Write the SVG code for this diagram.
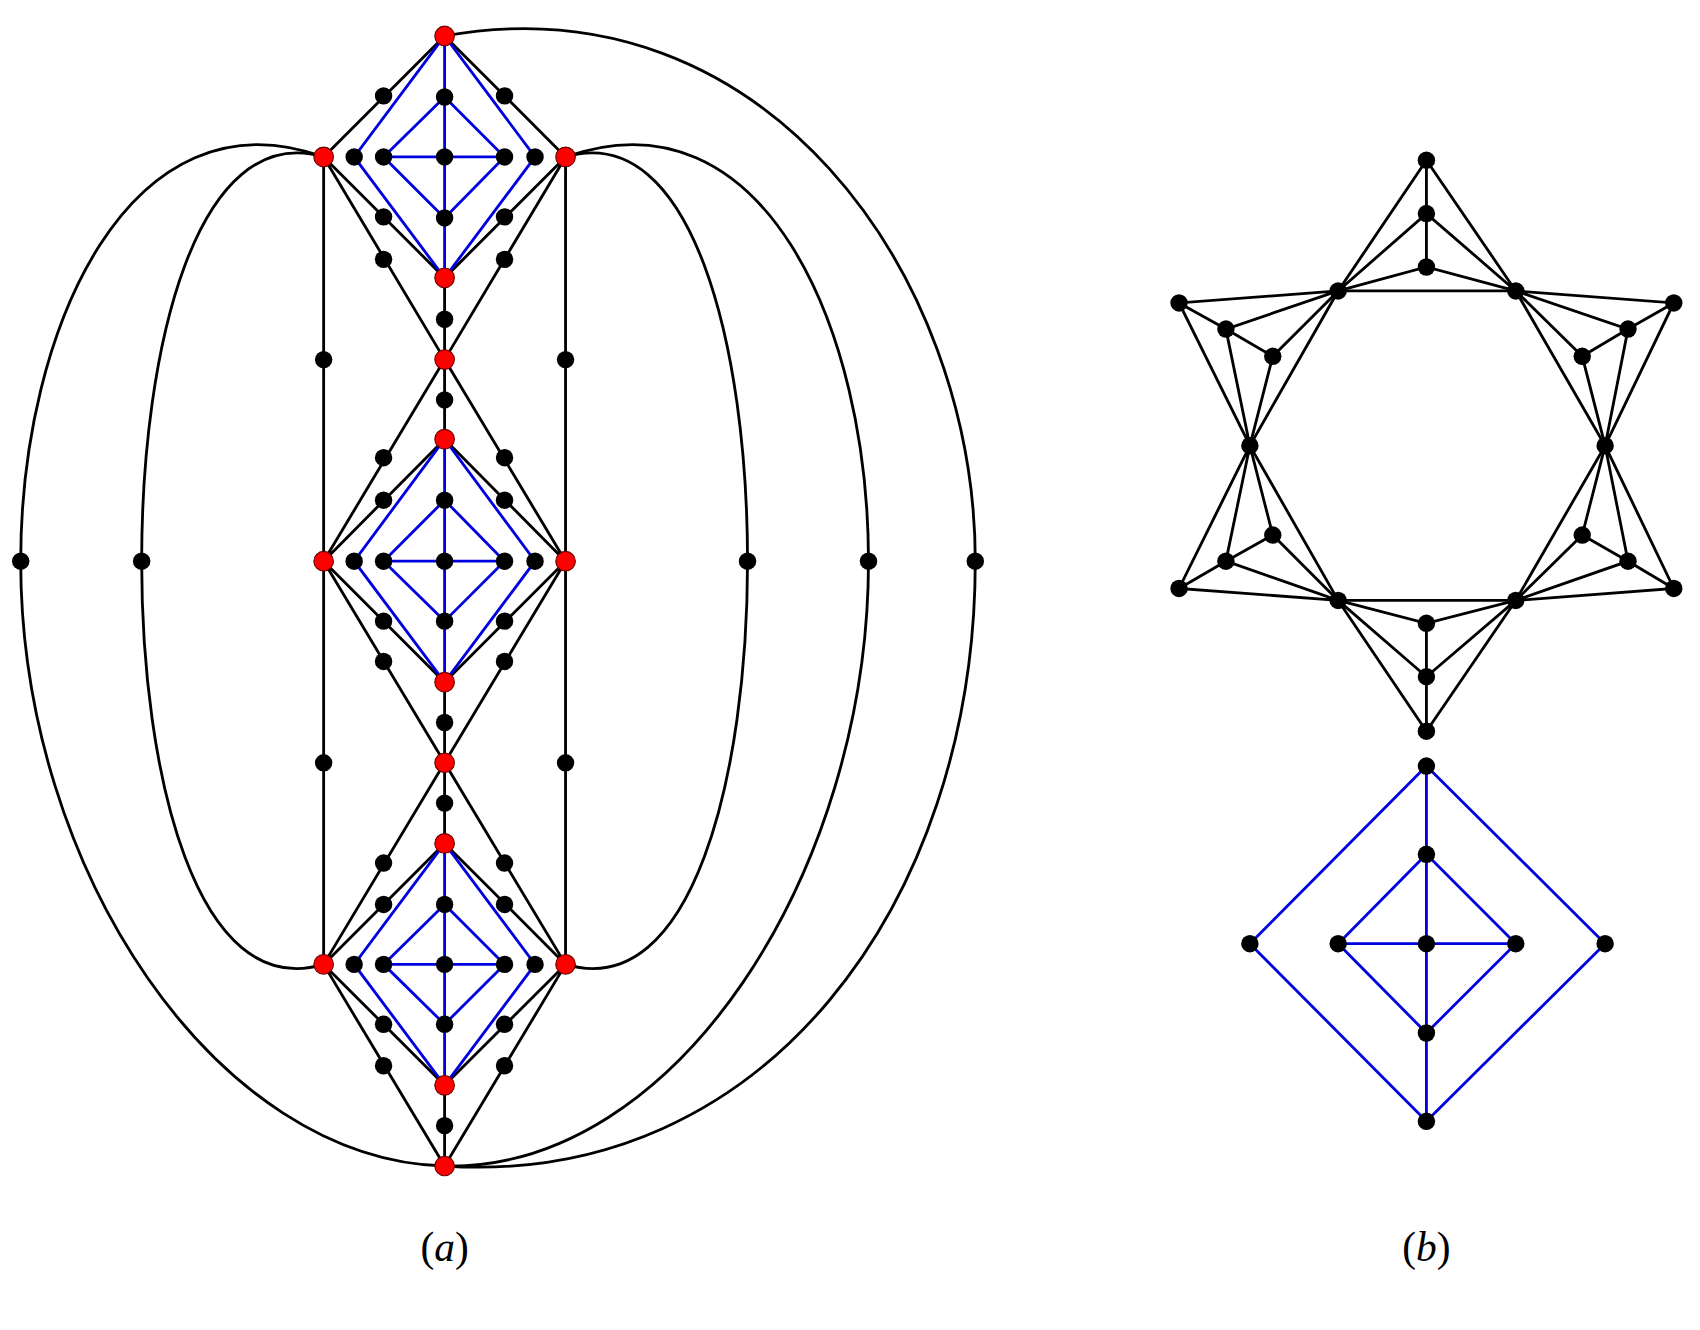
<svg xmlns="http://www.w3.org/2000/svg" width="1700" height="1330" viewBox="0 0 1700 1330">
<style>
.k{stroke:#000;stroke-width:2.6;fill:none}
.b{stroke:#0000e0;stroke-width:2.6;fill:none}
.d{fill:#000}
.r{fill:#f00;stroke:#600;stroke-width:1}
.t{font-family:"Liberation Serif",serif;font-size:38px;fill:#000}
.i{font-style:italic}
</style>
<defs>
<circle id="dk" r="8" class="d"/>
<circle id="rd" r="9" class="r"/>
</defs>
<rect width="1700" height="1330" fill="#fff"/>
<g transform="scale(1.0897)">
<g id="connectors">
<path class="k" d="M297,144 C180,110 130,320 130,515 C130,710 180,920 297,885"/>
<path class="k" d="M297,144 C120,80 19,300 19,515 C19,800 200,1065 408,1070"/>
<path class="k" d="M519,144 C636,110 686,320 686,515 C686,710 636,920 519,885"/>
<path class="k" d="M519,144 C700,80 797,300 797,515 C797,800 620,1075 408,1070"/>
<path class="k" d="M408,33 C700,-20 895,250 895,515 C895,830 700,1090 408,1070"/>
<path class="k" d="M297,144V885M519,144V885M408,255V403M408,626V774M408,996V1070"/>
<path class="k" d="M408,33L297,144M408,33L519,144M297,144L408,255M519,144L408,255M297,144L408,330M519,144L408,330"/>
<path class="k" d="M408,330L297,515M408,330L519,515M408,403L297,515M408,403L519,515M297,515L408,626M519,515L408,626M297,515L408,700M519,515L408,700"/>
<path class="k" d="M408,700L297,885M408,700L519,885M408,774L297,885M408,774L519,885M297,885L408,996M519,885L408,996M297,885L408,1070M519,885L408,1070"/>
<path class="b" d="M408,33L325,144L408,255L491,144Z M408,89L352,144L408,200L463,144Z M408,33V255 M352,144H463"/>
<path class="b" d="M408,403L325,515L408,626L491,515Z M408,459L352,515L408,570L463,515Z M408,403V626 M352,515H463"/>
<path class="b" d="M408,774L325,885L408,996L491,885Z M408,830L352,885L408,940L463,885Z M408,774V996 M352,885H463"/>
<path class="k" d="M1228,267H1391L1473,409L1391,551H1228L1147,409Z"/>
<path class="k" d="M1228,267L1309,147L1391,267M1228,267L1309,196L1391,267M1228,267L1309,245L1391,267M1309,147V245"/>
<path class="k" d="M1228,551L1309,671L1391,551M1228,551L1309,621L1391,551M1228,551L1309,572L1391,551M1309,572V671"/>
<path class="k" d="M1228,267L1082,278L1147,409M1228,267L1125,302L1147,409M1228,267L1168,327L1147,409M1082,278L1125,302L1168,327"/>
<path class="k" d="M1228,551L1082,540L1147,409M1228,551L1125,515L1147,409M1228,551L1168,491L1147,409M1082,540L1125,515L1168,491"/>
<path class="k" d="M1391,267L1536,278L1473,409M1391,267L1494,302L1473,409M1391,267L1452,327L1473,409M1536,278L1494,302L1452,327"/>
<path class="k" d="M1391,551L1536,540L1473,409M1391,551L1494,515L1473,409M1391,551L1452,491L1473,409M1536,540L1494,515L1452,491"/>
<path class="b" d="M1309,703L1147,866L1309,1029L1473,866Z M1309,784L1228,866L1309,948L1391,866Z M1309,703V1029 M1228,866H1391"/>
</g>
<g id="nodes-a">
<use href="#dk" x="408" y="89"/><use href="#dk" x="408" y="144"/><use href="#dk" x="408" y="200"/>
<use href="#dk" x="325" y="144"/><use href="#dk" x="352" y="144"/><use href="#dk" x="463" y="144"/><use href="#dk" x="491" y="144"/>
<use href="#dk" x="352" y="88"/><use href="#dk" x="463" y="88"/><use href="#dk" x="352" y="199"/><use href="#dk" x="463" y="199"/><use href="#dk" x="352" y="238"/><use href="#dk" x="463" y="238"/>
<use href="#dk" x="408" y="293"/><use href="#dk" x="297" y="330"/><use href="#dk" x="519" y="330"/><use href="#dk" x="408" y="367"/>
<use href="#dk" x="352" y="420"/><use href="#dk" x="463" y="420"/><use href="#dk" x="352" y="459"/><use href="#dk" x="463" y="459"/><use href="#dk" x="408" y="459"/>
<use href="#dk" x="325" y="515"/><use href="#dk" x="352" y="515"/><use href="#dk" x="408" y="515"/><use href="#dk" x="463" y="515"/><use href="#dk" x="491" y="515"/>
<use href="#dk" x="352" y="570"/><use href="#dk" x="408" y="570"/><use href="#dk" x="463" y="570"/><use href="#dk" x="352" y="607"/><use href="#dk" x="463" y="607"/>
<use href="#dk" x="408" y="663"/><use href="#dk" x="297" y="700"/><use href="#dk" x="519" y="700"/><use href="#dk" x="408" y="737"/>
<use href="#dk" x="352" y="792"/><use href="#dk" x="463" y="792"/><use href="#dk" x="352" y="830"/><use href="#dk" x="408" y="830"/><use href="#dk" x="463" y="830"/>
<use href="#dk" x="325" y="885"/><use href="#dk" x="352" y="885"/><use href="#dk" x="408" y="885"/><use href="#dk" x="463" y="885"/><use href="#dk" x="491" y="885"/>
<use href="#dk" x="352" y="940"/><use href="#dk" x="408" y="940"/><use href="#dk" x="463" y="940"/><use href="#dk" x="352" y="978"/><use href="#dk" x="463" y="978"/>
<use href="#dk" x="408" y="1033"/>
<use href="#dk" x="19" y="515"/><use href="#dk" x="130" y="515"/><use href="#dk" x="686" y="515"/><use href="#dk" x="797" y="515"/><use href="#dk" x="895" y="515"/>
<use href="#rd" x="408" y="33"/><use href="#rd" x="297" y="144"/><use href="#rd" x="519" y="144"/><use href="#rd" x="408" y="255"/><use href="#rd" x="408" y="330"/>
<use href="#rd" x="408" y="403"/><use href="#rd" x="297" y="515"/><use href="#rd" x="519" y="515"/><use href="#rd" x="408" y="626"/><use href="#rd" x="408" y="700"/>
<use href="#rd" x="408" y="774"/><use href="#rd" x="297" y="885"/><use href="#rd" x="519" y="885"/><use href="#rd" x="408" y="996"/><use href="#rd" x="408" y="1070"/>
</g>
<g id="nodes-b">
<use href="#dk" x="1309" y="147"/><use href="#dk" x="1309" y="196"/><use href="#dk" x="1309" y="245"/>
<use href="#dk" x="1228" y="267"/><use href="#dk" x="1391" y="267"/><use href="#dk" x="1147" y="409"/><use href="#dk" x="1473" y="409"/><use href="#dk" x="1228" y="551"/><use href="#dk" x="1391" y="551"/>
<use href="#dk" x="1082" y="278"/><use href="#dk" x="1125" y="302"/><use href="#dk" x="1168" y="327"/>
<use href="#dk" x="1536" y="278"/><use href="#dk" x="1494" y="302"/><use href="#dk" x="1452" y="327"/>
<use href="#dk" x="1082" y="540"/><use href="#dk" x="1125" y="515"/><use href="#dk" x="1168" y="491"/>
<use href="#dk" x="1536" y="540"/><use href="#dk" x="1494" y="515"/><use href="#dk" x="1452" y="491"/>
<use href="#dk" x="1309" y="572"/><use href="#dk" x="1309" y="621"/><use href="#dk" x="1309" y="671"/>
<use href="#dk" x="1309" y="703"/><use href="#dk" x="1309" y="784"/><use href="#dk" x="1309" y="866"/><use href="#dk" x="1309" y="948"/><use href="#dk" x="1309" y="1029"/>
<use href="#dk" x="1147" y="866"/><use href="#dk" x="1228" y="866"/><use href="#dk" x="1391" y="866"/><use href="#dk" x="1473" y="866"/>
</g>
<text class="t" x="408" y="1157" text-anchor="middle">(<tspan class="i">a</tspan>)</text>
<text class="t" x="1309" y="1157" text-anchor="middle">(<tspan class="i">b</tspan>)</text>
</g>
</svg>
